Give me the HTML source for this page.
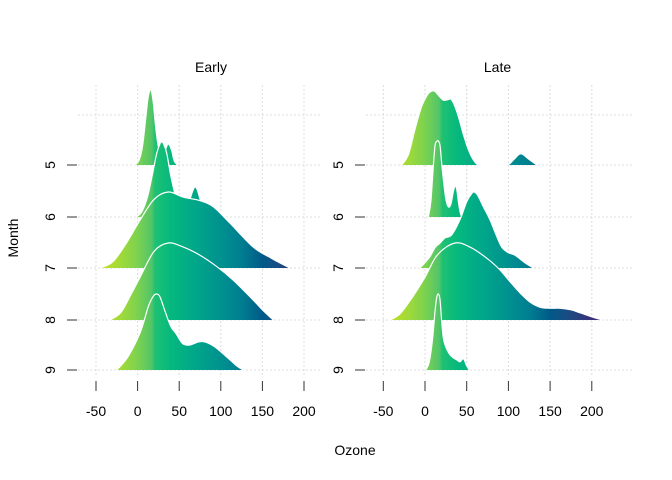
<!DOCTYPE html>
<html><head><meta charset="utf-8">
<style>
body{margin:0;background:#fff;}
svg{display:block;font-family:"Liberation Sans",Arial,sans-serif;}
</style></head>
<body>
<svg id="chart" width="672" height="480"></svg>
<script>
// ---- data ----
const months = ["5","6","7","8","9"];
const panels = ["Early","Late"];
const xTicks = [-50,0,50,100,150,200];
// density profiles: [ozone value, relative height]
const early5 = [[-3,0],[2,0.1],[6,0.38],[9,0.8],[12,1.25],[14,1.43],[15.5,1.47],[17,1.42],[19,1.2],[21,0.85],[24,0.45],[27,0.22],[30,0.18],[33,0.28],[36,0.4],[38,0.4],[41,0.28],[44,0.08],[48,0]];
const early6 = [[-2,0],[5,0.1],[12,0.4],[18,0.85],[23,1.25],[27,1.44],[29,1.47],[31,1.44],[35,1.25],[40,0.8],[47,0.35],[55,0.3],[62,0.33],[66,0.5],[69,0.59],[72,0.52],[76,0.3],[80,0.15],[86,0]];
const early7 = [[-45,0],[-30,0.12],[-15,0.45],[3,0.94],[20,1.35],[37,1.49],[55,1.39],[75,1.32],[91,1.2],[111,0.88],[139,0.41],[160,0.2],[171,0.1],[183,0]];
const early8 = [[-33,0],[-20,0.15],[-8,0.5],[3,0.84],[20,1.35],[37,1.51],[55,1.43],[75,1.27],[95,1.05],[115,0.78],[139,0.39],[150,0.2],[163,0]];
const early9 = [[-25,0],[-12,0.25],[3,0.73],[13,1.25],[19,1.45],[23,1.49],[27,1.43],[33,1.15],[40,0.85],[46,0.72],[54,0.52],[63,0.49],[73,0.55],[81,0.55],[93,0.45],[111,0.2],[120,0.07],[127,0]];
const late5 = [[-28,0],[-20,0.2],[-12,0.7],[-4,1.15],[3,1.38],[8,1.45],[12,1.44],[17,1.35],[22,1.27],[27,1.28],[31,1.29],[35,1.18],[40,0.95],[46,0.6],[52,0.3],[58,0.1],[64,0],[75,0],[98,0],[106,0.1],[112,0.2],[115,0.22],[118,0.2],[124,0.12],[134,0]];
const late6 = [[4,0],[7,0.3],[10,1.0],[12,1.4],[14,1.48],[16,1.49],[18,1.4],[20,1.05],[22,0.73],[25,0.35],[28,0.2],[31,0.25],[34,0.5],[36,0.6],[38,0.55],[40,0.3],[42,0.1],[44,0]];
const late7 = [[-6,0],[5,0.2],[12,0.4],[18,0.49],[24,0.59],[32,0.65],[42,0.95],[50,1.3],[56,1.46],[59,1.49],[63,1.43],[70,1.2],[78,0.94],[86,0.62],[92,0.41],[100,0.3],[108,0.25],[120,0.1],[130,0]];
const late8 = [[-42,0],[-30,0.12],[-15,0.45],[0,0.84],[15,1.28],[36,1.51],[55,1.42],[75,1.2],[90,0.98],[102,0.75],[114,0.53],[126,0.35],[138,0.25],[150,0.23],[162,0.23],[175,0.2],[186,0.14],[204,0.04],[213,0]];
const late9 = [[1,0],[5,0.15],[9,0.6],[12,1.15],[14,1.42],[16,1.49],[18,1.38],[20,0.95],[22,0.62],[25,0.45],[29,0.32],[33,0.25],[38,0.2],[42,0.16],[45,0.22],[47,0.2],[50,0.08],[53,0]];
const ridges = [[early5,early6,early7,early8,early9],[late5,late6,late7,late8,late9]];

// ---- layout ----
const NS="http://www.w3.org/2000/svg";
const svg=document.getElementById('chart');
const panelX=[{left:78,right:322,x0:137.6,k:0.832},{left:366,right:633,x0:425,k:0.834}];
const baseY=[165,217,268,320,370];
const unit=51;
function xs(p,v){return panelX[p].x0+v*panelX[p].k;}
function mk(tag,attrs,parent){const e=document.createElementNS(NS,tag);for(const a in attrs)e.setAttribute(a,attrs[a]);(parent||svg).appendChild(e);return e;}

const defs=mk('defs',{});
const stops=[[-48,'#c6e021'],[-20,'#a0da39'],[0,'#7cd250'],[17,'#52c569'],[21,'#1ec173'],[40,'#05b87e'],[70,'#00a68a'],[100,'#00918f'],[125,'#007e91'],[150,'#005a89'],[175,'#1f4882'],[200,'#3a2f7a'],[215,'#44207a']];
[0,1].forEach(p=>{
  const g=mk('linearGradient',{id:'grad'+p,gradientUnits:'userSpaceOnUse',x1:xs(p,-50),x2:xs(p,215),y1:0,y2:0},defs);
  const span=265;
  stops.forEach(s=>mk('stop',{offset:((s[0]+50)/span).toFixed(4),'stop-color':s[1]},g));
});

function smoothPath(pts){
  let d='M'+pts[0][0].toFixed(2)+','+pts[0][1].toFixed(2);
  for(let i=0;i<pts.length-1;i++){
    const p0=pts[Math.max(0,i-1)],p1=pts[i],p2=pts[i+1],p3=pts[Math.min(pts.length-1,i+2)];
    const c1x=p1[0]+(p2[0]-p0[0])/6,c1y=p1[1]+(p2[1]-p0[1])/6;
    const c2x=p2[0]-(p3[0]-p1[0])/6,c2y=p2[1]-(p3[1]-p1[1])/6;
    d+=' C'+c1x.toFixed(2)+','+c1y.toFixed(2)+' '+c2x.toFixed(2)+','+c2y.toFixed(2)+' '+p2[0].toFixed(2)+','+p2[1].toFixed(2);
  }
  return d;
}

[0,1].forEach(p=>{
  const P=panelX[p];
  const grid=mk('g',{},svg);
  
  
  xTicks.forEach(t=>mk('line',{x1:xs(p,t),x2:xs(p,t),y1:85,y2:376,stroke:'#dcdcdc','stroke-width':1,'stroke-dasharray':'2,2'},grid));
  baseY.concat([115]).forEach(y=>mk('line',{x1:P.left,x2:P.right,y1:y,y2:y,stroke:'#dcdcdc','stroke-width':1,'stroke-dasharray':'2,2'},grid));
  const t=mk('text',{x:(P.left+P.right)/2+(p?-2:11),y:72,'font-size':14,'text-anchor':'middle',fill:'#000'});
  t.textContent=panels[p];
  
  
  ridges[p].forEach((dens,i)=>{
    const b=baseY[i];
    const pts=dens.map(d=>[xs(p,d[0]),b-d[1]*unit]);
    const d=smoothPath(pts);
    const area=mk('path',{d:d+' L'+pts[pts.length-1][0]+','+b+' L'+pts[0][0]+','+b+' Z',fill:'url(#grad'+p+')',stroke:'none'});
    
    
    const line=mk('path',{d:d,fill:'none',stroke:'#fff','stroke-width':1.2});
    
    
  });
  const ax=mk('g',{});
  
  
  xTicks.forEach(tv=>{
    mk('line',{x1:xs(p,tv),x2:xs(p,tv),y1:381,y2:391,stroke:'#333','stroke-width':1},ax);
    const tl=mk('text',{x:xs(p,tv),y:416,'font-size':14,'text-anchor':'middle',fill:'#000'},ax);
    tl.textContent=tv;
  });
  const ay=mk('g',{});
  
  
  months.forEach((m,i)=>{
    mk('line',{x1:P.left-11,x2:P.left-1,y1:baseY[i],y2:baseY[i],stroke:'#333','stroke-width':1},ay);
    const yl=mk('text',{x:0,y:0,'font-size':14,'text-anchor':'middle',fill:'#000',transform:'translate('+(P.left-23)+','+baseY[i]+') rotate(-90)'},ay);
    yl.textContent=m;
  });
});
const xt=mk('text',{x:355,y:455,'font-size':14,'text-anchor':'middle',fill:'#000'});
xt.textContent='Ozone';


const yt=mk('text',{x:0,y:0,'font-size':14,'text-anchor':'middle',fill:'#000',transform:'translate(18,238) rotate(-90)'});
yt.textContent='Month';


</script>
</body></html>
